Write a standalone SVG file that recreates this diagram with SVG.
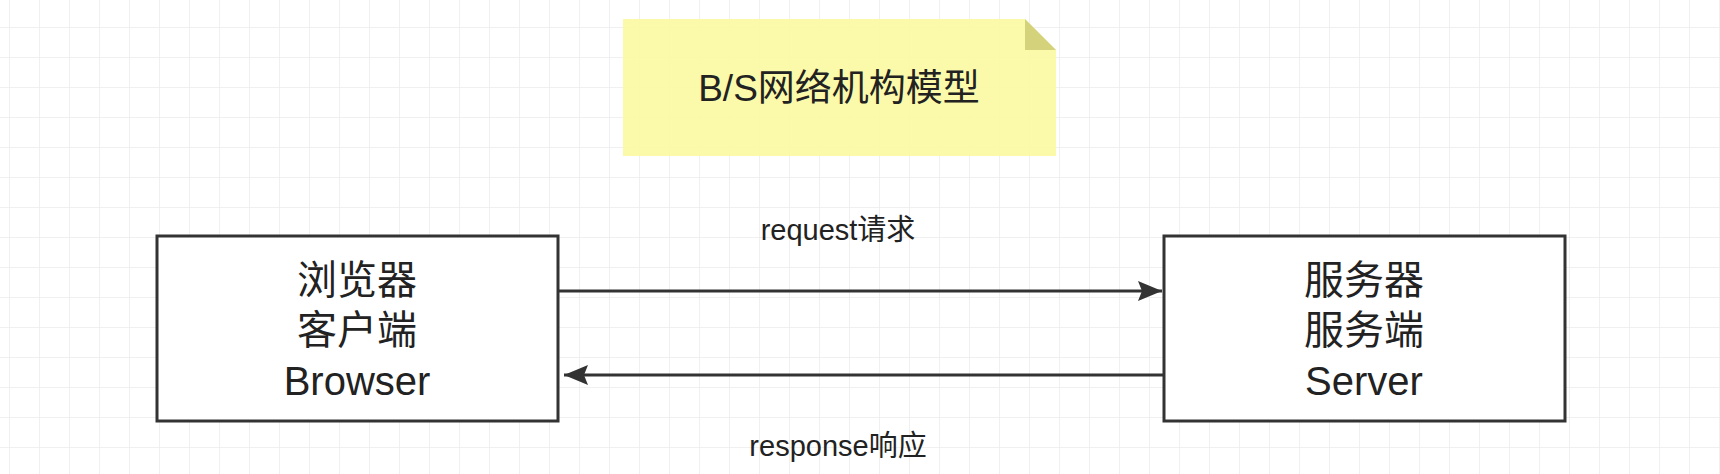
<svg xmlns="http://www.w3.org/2000/svg" width="1720" height="474" viewBox="0 0 1720 474">
<defs>
<pattern id="grid" width="30" height="30" patternUnits="userSpaceOnUse" x="10" y="-2">
<path d="M30 0V30M0 30H30" fill="none" stroke="#ececec" stroke-width="1.5"/>
</pattern>
<marker id="a" viewBox="0 0 12 10" refX="12" refY="5" markerWidth="26" markerHeight="20" markerUnits="userSpaceOnUse" orient="auto">
<path d="M0 0L12 5L0 10L2 5Z" fill="#333"/>
</marker>
</defs>
<style>
text{font-family:"Liberation Sans","Noto Sans CJK SC",sans-serif;fill:#222;text-anchor:middle;dominant-baseline:central}
.box{fill:#fff;stroke:#333;stroke-width:3}
.big{font-size:40px}
.lbl{font-size:29px}
.edge{stroke:#333;stroke-width:3;fill:none}
</style>
<rect width="1720" height="474" fill="#fff"/>
<rect width="1720" height="474" fill="url(#grid)"/>
<g id="note">
<path d="M623 19H1025L1056 50V156H623Z" fill="#fbf9a1" opacity="0.9"/>
<path d="M1025 19V50H1056Z" fill="#d4d27a"/>
<text x="839" y="88" class="big" style="font-size:37px">B/S网络机构模型</text>
</g>
<g id="browser">
<rect x="157" y="236" width="401" height="185" class="box"/>
<text x="357" y="280" class="big">浏览器</text>
<text x="357" y="330" class="big">客户端</text>
<text x="357" y="381" class="big">Browser</text>
</g>
<g id="server">
<rect x="1164" y="236" width="401" height="185" class="box"/>
<text x="1364" y="280" class="big">服务器</text>
<text x="1364" y="330" class="big">服务端</text>
<text x="1364" y="381" class="big">Server</text>
</g>
<g id="connectors">
<path d="M558 291H1162" class="edge" marker-end="url(#a)"/>
<path d="M1164 375H564" class="edge" marker-end="url(#a)"/>
<text x="838" y="230" class="lbl">request请求</text>
<text x="838" y="446" class="lbl">response响应</text>
</g>
</svg>
